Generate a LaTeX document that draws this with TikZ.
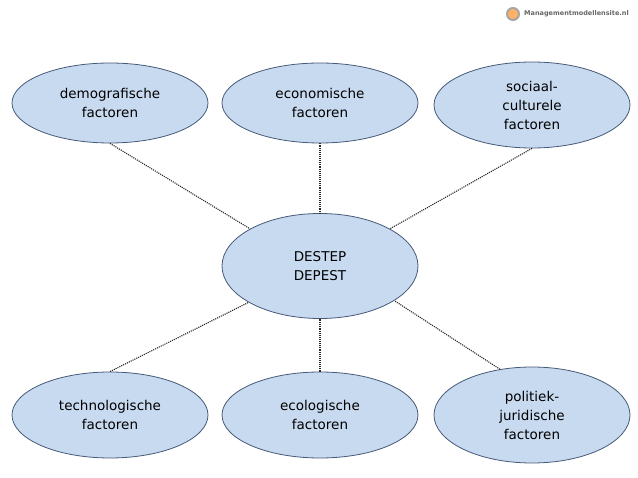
\documentclass[tikz,border=0pt]{standalone}
\usepackage{fontspec}
\setmainfont{DejaVu Sans}
\usetikzlibrary{shapes.geometric}
\definecolor{efill}{RGB}{200,218,240}
\definecolor{edraw}{RGB}{70,90,120}
\begin{document}
\begin{tikzpicture}[x=1pt,y=-1pt,
  ell/.style={ellipse,draw=edraw,line width=0.8pt,fill=efill,minimum width=196pt,minimum height=#1,inner sep=0pt,align=center,font=\fontsize{13.5}{19}\selectfont},
  ell/.default=80pt,
  link/.style={densely dotted,line width=1.1pt,black!85}]
\useasboundingbox (0,0) rectangle (638,478);
\node[ell] (dem) at (110,103) {demografische\\factoren};
\node[ell] (eco) at (320,103) {economische\\factoren};
\node[ell=86pt] (soc) at (532,105) {sociaal-\\culturele\\factoren};
\node[ell=105pt] (mid) at (320,266) {DESTEP\\DEPEST};
\node[ell=86pt] (tec) at (110,415) {technologische\\factoren};
\node[ell=86pt] (ecol) at (320,415) {ecologische\\factoren};
\node[ell=96pt] (pol) at (532,415) {politiek-\\juridische\\factoren};
\draw[link] (dem.south) -- (mid.152);
\draw[link] (eco) -- (mid);
\draw[link] (soc.south) -- (mid.28);
\draw[link] (tec.north) -- (mid.207);
\draw[link] (ecol) -- (mid);
\draw[link] (pol.125) -- (mid.-25);
\node[circle,draw=gray!70,line width=2pt,fill=orange!60,minimum size=12pt,inner sep=0pt] (logo) at (513,14) {};
\node[anchor=west,font=\bfseries\fontsize{6.5}{8}\selectfont,text=gray!80!black,inner sep=0pt] (site) at (524,14) {Managementmodellensite.nl};
\end{tikzpicture}
\end{document}
